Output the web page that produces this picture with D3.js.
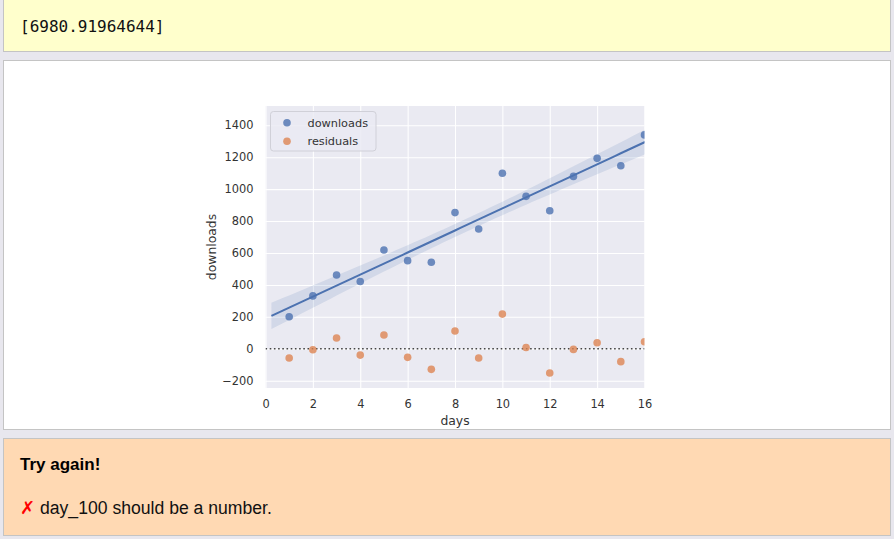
<!DOCTYPE html>
<html>
<head>
<meta charset="utf-8">
<script src="https://cdn.jsdelivr.net/npm/d3@7"></script>
<style>
  body { margin: 0; width: 894px; height: 539px; overflow: hidden; position: relative;
         background: #e8e7ee; font-family: "Liberation Sans", Arial, sans-serif; }
  .box { position: absolute; left: 3px; width: 888px; box-sizing: border-box; border: 1px solid #c4c4c4; }
  #out { top: -6px; height: 58px; background: #ffffcc; }
  #out pre { margin: 0; position: absolute; left: 16px; top: 22px; font: 16px "DejaVu Sans Mono", monospace; color: #111; }
  #fig { top: 60px; height: 370px; background: #fff; }
  #msg { top: 438px; height: 98px; background: #ffd9b3; }
  #msg .t1 { position: absolute; left: 16px; top: 16px; font-weight: bold; font-size: 17px; color: #000; }
  #msg .t2 { position: absolute; left: 16px; top: 59px; font-size: 17.6px; color: #111; }
  #msg .x { color: #f00; margin-right: 5px; }
  svg { position: absolute; left: 0; top: 0; }
</style>
</head>
<body>
<div class="box" id="out"><pre>[6980.91964644]</pre></div>
<div class="box" id="fig"></div>
<div class="box" id="msg">
  <div class="t1">Try again!</div>
  <div class="t2"><span class="x">✗</span>day_100 should be a number.</div>
</div>
<script>
// data
var days = [1, 2, 3, 4, 5, 6, 7, 8, 9, 10, 11, 12, 13, 14, 15, 16];
var downloads = [200, 331, 462, 421, 619, 552, 542, 853, 750, 1100, 955, 865, 1080, 1193, 1147, 1340];
var residuals = [-58, -6, 67, -40, 86, -54, -129, 111, -58, 217, 8, -152, -4, 38, -81, 44];
var xTicks = [0, 2, 4, 6, 8, 10, 12, 14, 16];
var yTicks = [-200, 0, 200, 400, 600, 800, 1000, 1200, 1400];
var seriesNames = ["downloads", "residuals"];
var colors = ["#4C72B0", "#DD8452"];

// plot box (page coords)
var pLeft = 265.5, pRight = 644.5, pTop = 106, pBottom = 388;

var svg = d3.select("body").append("svg")
  .attr("width", 894)
  .attr("height", 539);

var x = d3.scaleLinear().domain([0, 16]).range([pLeft, pRight]);
var y = d3.scaleLinear().domain([-246, 1521]).range([pBottom, pTop]);

svg.append("defs").append("clipPath").attr("id", "clip")
  .append("rect")
  .attr("x", pLeft).attr("y", pTop)
  .attr("width", pRight - pLeft).attr("height", pBottom - pTop);

svg.append("rect")
  .attr("x", pLeft).attr("y", pTop)
  .attr("width", pRight - pLeft).attr("height", pBottom - pTop)
  .attr("fill", "#eaeaf2");

// grid
svg.append("g")
  .attr("transform", `translate(0,${pBottom})`)
  .call(d3.axisBottom(x).tickValues(xTicks).tickSize(-(pBottom - pTop)).tickFormat(""))
  .call(g => g.select(".domain").remove())
  .call(g => g.selectAll("line").attr("stroke", "#fff").attr("stroke-width", 1.05));
svg.append("g")
  .attr("transform", `translate(${pLeft},0)`)
  .call(d3.axisLeft(y).tickValues(yTicks).tickSize(-(pRight - pLeft)).tickFormat(""))
  .call(g => g.select(".domain").remove())
  .call(g => g.selectAll("line").attr("stroke", "#fff").attr("stroke-width", 1.05));

// tick labels
var xAxis = svg.append("g")
  .attr("transform", `translate(0,${pBottom})`)
  .call(d3.axisBottom(x).tickValues(xTicks).tickSize(0).tickPadding(11.5));
var yAxis = svg.append("g")
  .attr("transform", `translate(${pLeft},0)`)
  .call(d3.axisLeft(y).tickValues(yTicks).tickSize(0).tickPadding(12).tickFormat(d3.format("d")));
[xAxis, yAxis].forEach(function(a) {
  a.select(".domain").remove();
  a.selectAll("text")
    .attr("fill", "#333")
    .style("font-family", "'DejaVu Sans', sans-serif")
    .style("font-size", "11.4px");
});

svg.append("text")
  .attr("x", (pLeft + pRight) / 2).attr("y", 424.5)
  .attr("text-anchor", "middle")
  .attr("fill", "#333")
  .style("font-family", "'DejaVu Sans', sans-serif").style("font-size", "12.4px")
  .text("days");
svg.append("text")
  .attr("transform", `translate(216,${(pTop + pBottom) / 2}) rotate(-90)`)
  .attr("text-anchor", "middle")
  .attr("fill", "#333")
  .style("font-family", "'DejaVu Sans', sans-serif").style("font-size", "12.4px")
  .text("downloads");

// least squares fit of downloads on days
var n = days.length;
var mx = d3.mean(days), my = d3.mean(downloads);
var sxx = d3.sum(days, d => (d - mx) * (d - mx));
var sxy = d3.sum(days, (d, i) => (d - mx) * (downloads[i] - my));
var slope = sxy / sxx, icept = my - slope * mx;
var sres = Math.sqrt(d3.sum(days, (d, i) => Math.pow(downloads[i] - (icept + slope * d), 2)) / (n - 2));
var gridX = d3.range(0.25, 16.76, 0.25);
var band = gridX.map(function(d) {
  var f = icept + slope * d;
  var se = sres * Math.sqrt(1 / n + (d - mx) * (d - mx) / sxx);
  return { x: d, f: f, lo: f - 1.645 * se, hi: f + 1.645 * se };
});

var plot = svg.append("g").attr("clip-path", "url(#clip)");

plot.append("path")
  .datum(band)
  .attr("fill", colors[0])
  .attr("fill-opacity", 0.15)
  .attr("d", d3.area().x(d => x(d.x)).y0(d => y(d.lo)).y1(d => y(d.hi)));

plot.append("path")
  .datum(band)
  .attr("fill", "none")
  .attr("stroke", colors[0])
  .attr("stroke-width", 2)
  .attr("d", d3.line().x(d => x(d.x)).y(d => y(d.f)));

plot.append("line")
  .attr("x1", x(0)).attr("x2", x(16))
  .attr("y1", y(0)).attr("y2", y(0))
  .attr("stroke", "#444")
  .attr("stroke-width", 1.6)
  .attr("stroke-dasharray", "1.6,2.6");

plot.selectAll(".dl")
  .data(days)
  .join("circle")
  .attr("class", "dl")
  .attr("cx", d => x(d))
  .attr("cy", (d, i) => y(downloads[i]))
  .attr("r", 3.8)
  .attr("fill", colors[0])
  .attr("fill-opacity", 0.8);

plot.selectAll(".rs")
  .data(days)
  .join("circle")
  .attr("class", "rs")
  .attr("cx", d => x(d))
  .attr("cy", (d, i) => y(residuals[i]))
  .attr("r", 3.8)
  .attr("fill", colors[1])
  .attr("fill-opacity", 0.8);

// legend
var legend = svg.append("g");
legend.append("rect")
  .attr("x", 270.5).attr("y", 111.5)
  .attr("width", 105.5).attr("height", 39.5)
  .attr("rx", 3)
  .attr("fill", "#eaeaf2").attr("fill-opacity", 0.8)
  .attr("stroke", "#d0d0d8");
seriesNames.forEach(function(name, i) {
  var cy = 122.7 + i * 18.6;
  legend.append("circle")
    .attr("cx", 287).attr("cy", cy).attr("r", 3.8)
    .attr("fill", colors[i]).attr("fill-opacity", 0.8);
  legend.append("text")
    .attr("x", 307.5).attr("y", cy + 4)
    .attr("fill", "#333")
    .style("font-family", "'DejaVu Sans', sans-serif").style("font-size", "11.3px")
    .text(name);
});
</script>
</body>
</html>
